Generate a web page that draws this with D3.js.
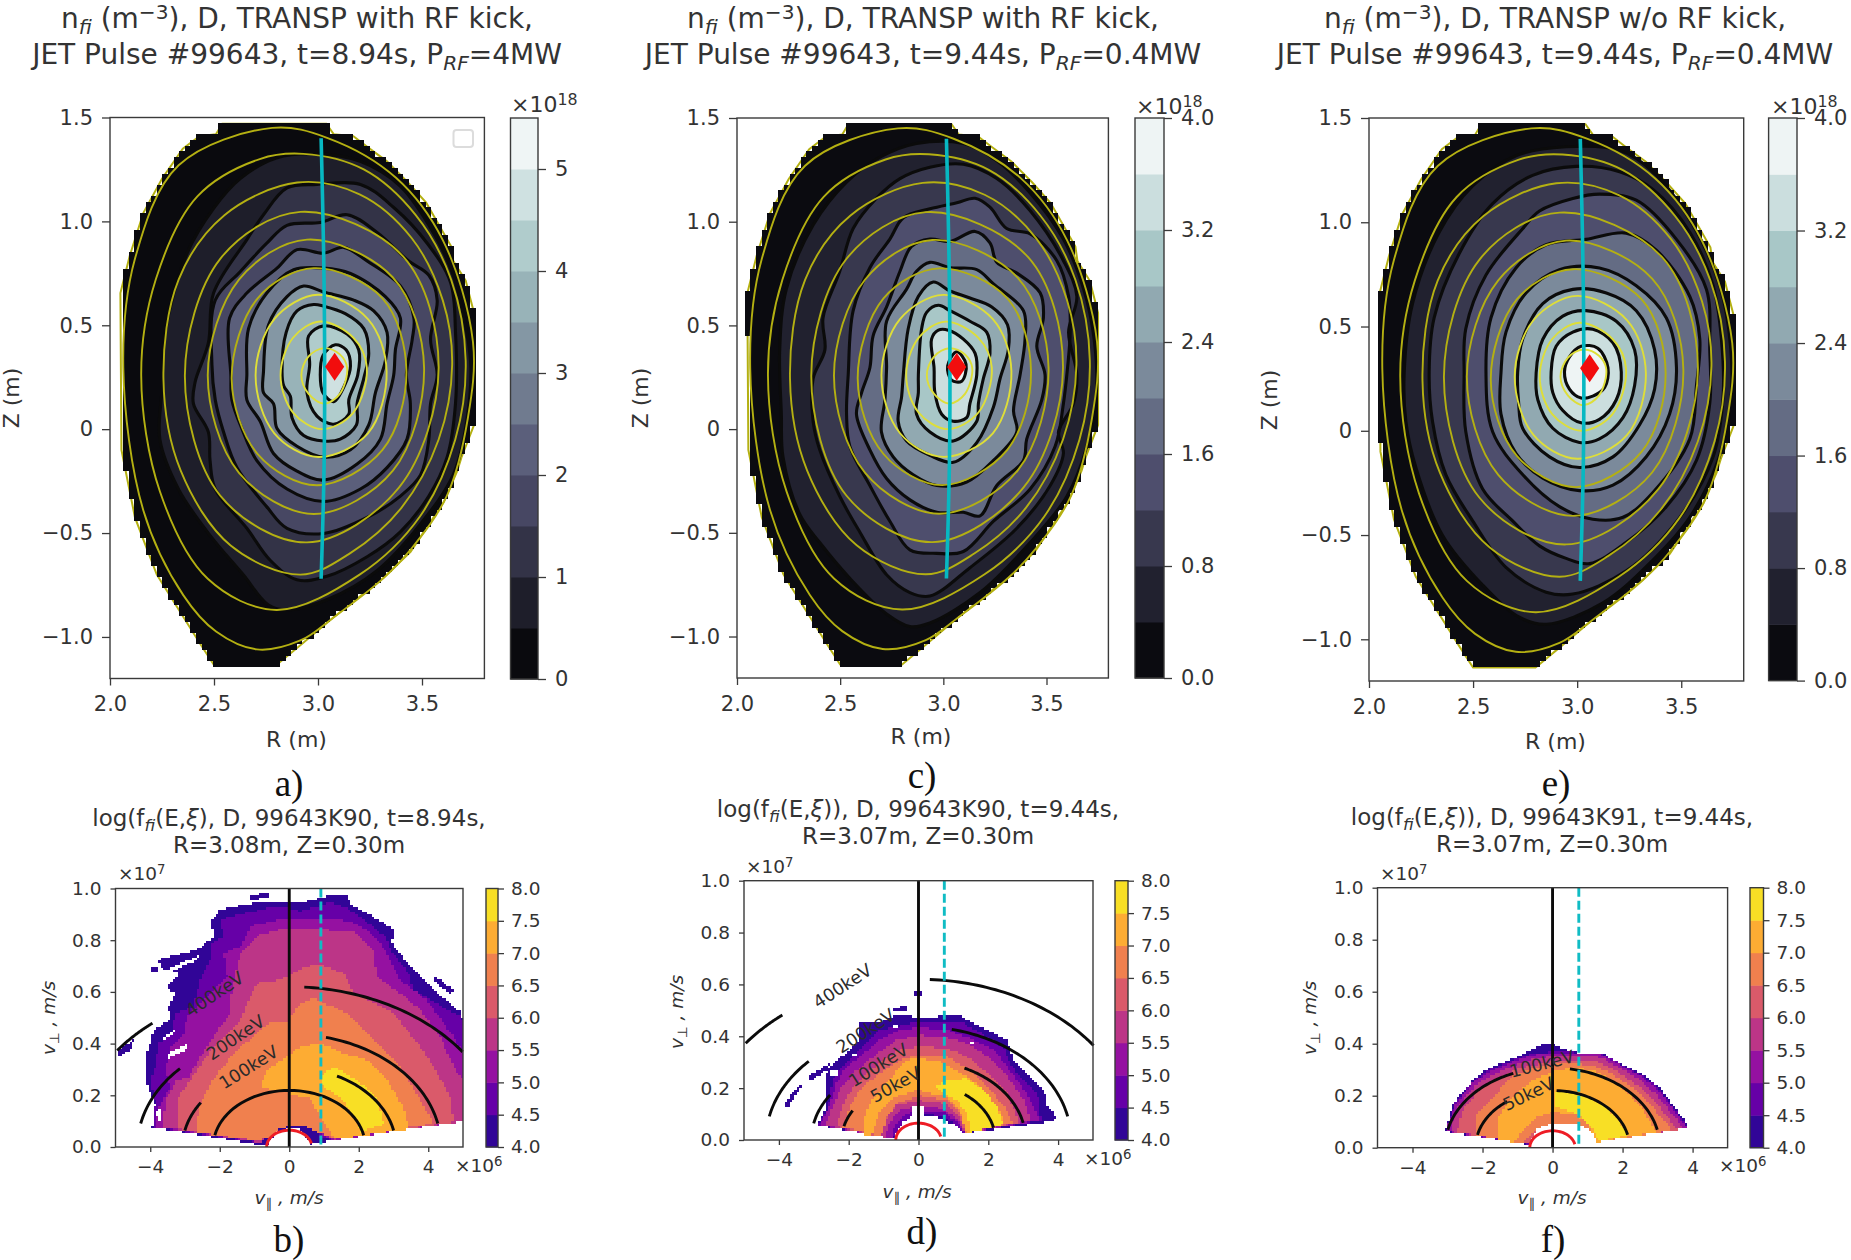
<!DOCTYPE html>
<html>
<head>
<meta charset="utf-8">
<script src="https://cdn.jsdelivr.net/npm/d3@7/dist/d3.min.js"></script>
<style>
  html, body { margin: 0; padding: 0; background: #fff; }
  svg { display: block; }
  text { font-family: "DejaVu Sans", sans-serif; fill: #333; }
</style>
</head>
<body>
<svg id="fig" width="1851" height="1260"></svg>
<script>
// ---------- poloidal cross-section: shared magnetic geometry, [R, Z] in metres ----------
const plasmaEdge = [[2.54,1.47],[3.04,1.47],[3.075,1.42],[3.17,1.41],[3.235,1.36],[3.33,1.29],[3.43,1.19],[3.52,1.09],[3.64,.88],[3.65,.81],[3.71,.715],[3.75,.56],[3.75,.02],[3.69,-.135],[3.67,-.20],[3.605,-.35],[3.445,-.59],[3.315,-.715],[3.075,-.905],[2.915,-1.04],[2.80,-1.135],[2.50,-1.135],[2.435,-1.035],[2.30,-.82],[2.225,-.70],[2.16,-.53],[2.12,-.425],[2.055,-.10],[2.05,.655],[2.095,.835],[2.16,1.04],[2.25,1.205],[2.35,1.35],[2.43,1.41],[2.51,1.42]];

const fluxSurfaces = [
  [[2.064,.295],[2.12,.82],[2.33,1.27],[2.78,1.45],[3.05,1.40],[3.375,1.21],[3.6,.91],[3.745,.42],[3.72,.05],[3.62,-.32],[3.445,-.58],[3.315,-.717],[3.075,-.906],[2.915,-1.017],[2.706,-1.06],[2.51,-.974],[2.353,-.80],[2.16,-.39]],
  [[2.15,.26],[2.22,.72],[2.42,1.12],[2.72,1.30],[2.93,1.325],[3.22,1.25],[3.47,1.03],[3.64,.72],[3.71,.33],[3.66,-.05],[3.49,-.42],[3.2,-.70],[2.8,-.87],[2.47,-.72],[2.24,-.30]],
  [[2.257,.24],[2.33,.72],[2.55,1.03],[2.90,1.187],[3.2,1.13],[3.45,.92],[3.60,.62],[3.645,.31],[3.58,-.05],[3.40,-.38],[3.15,-.60],[2.915,-.70],[2.58,-.56],[2.34,-.20]],
  [[2.36,.26],[2.53,.82],[2.915,1.046],[3.41,.83],[3.58,.295],[3.39,-.28],[2.947,-.545],[2.53,-.32]],
  [[2.47,.26],[2.62,.72],[2.947,.912],[3.36,.73],[3.51,.295],[3.36,-.2],[2.98,-.408],[2.62,-.21]],
  [[2.585,.243],[2.71,.63],[2.98,.775],[3.31,.63],[3.425,.278],[3.31,-.10],[2.995,-.27],[2.71,-.12]],
  [[2.70,.26],[2.79,.53],[3.0,.647],[3.24,.53],[3.33,.278],[3.24,-.02],[3.0,-.134],[2.79,-.02]],
  [[2.82,.26],[2.88,.44],[3.01,.518],[3.17,.44],[3.235,.295],[3.17,.08],[3.02,0],[2.88,.08]],
  [[2.92,.26],[2.955,.35],[3.03,.39],[3.105,.36],[3.14,.295],[3.105,.17],[3.03,.123],[2.955,.17]]
];

const diagnosticChord = [[3.015,1.40],[3.03,.64],[3.03,-.13],[3.015,-.72]];

// ---------- fast-ion density contours, outermost level first ----------
const levelsA = [.5,1,1.5,2,2.5,3,3.5,4,4.5];
const contoursA = [
  [[2.265,.465],[2.37,.845],[2.50,1.065],[2.625,1.205],[2.80,1.305],[2.995,1.325],[3.20,1.29],[3.395,1.17],[3.555,.945],[3.65,.74],[3.715,.465],[3.735,.295],[3.715,.04],[3.65,-.22],[3.49,-.46],[3.285,-.68],[3.045,-.82],[2.85,-.87],[2.76,-.845],[2.64,-.70],[2.48,-.51],[2.33,-.29],[2.24,-.05],[2.25,.19]],
  [[2.995,1.178],[3.204,1.178],[3.364,1.067],[3.525,.895],[3.637,.707],[3.661,.466],[3.661,.123],[3.621,-.134],[3.533,-.322],[3.396,-.494],[3.236,-.614],[3.043,-.708],[2.899,-.725],[2.77,-.631],[2.658,-.477],[2.506,-.288],[2.481,-.151],[2.473,-.014],[2.401,.123],[2.409,.226],[2.473,.415],[2.498,.655],[2.658,.912],[2.738,1.032],[2.851,1.161]],
  [[2.49,.312],[2.506,.621],[2.626,.758],[2.754,.895],[2.851,.981],[3.011,.995],[3.14,1.032],[3.284,.947],[3.436,.809],[3.533,.741],[3.573,.621],[3.541,.432],[3.573,.261],[3.541,.123],[3.533,-.048],[3.493,-.22],[3.396,-.322],[3.236,-.425],[3.027,-.502],[2.851,-.477],[2.754,-.374],[2.61,-.185],[2.546,-.014],[2.506,.141]],
  [[2.581,.261],[2.575,.535],[2.658,.655],[2.803,.775],[2.899,.864],[3.027,.847],[3.124,.875],[3.236,.809],[3.396,.689],[3.461,.535],[3.453,.432],[3.425,.261],[3.444,.123],[3.428,-.048],[3.332,-.185],[3.204,-.288],[3.027,-.348],[2.851,-.288],[2.706,-.151],[2.634,.003],[2.586,.141]],
  [[2.658,.261],[2.666,.484],[2.754,.655],[2.883,.767],[3.027,.775],[3.156,.749],[3.324,.638],[3.396,.535],[3.372,.381],[3.364,.261],[3.332,.123],[3.3,-.048],[3.188,-.168],[3.027,-.245],[2.899,-.202],[2.786,-.117],[2.722,.038],[2.658,.141]],
  [[2.738,.278],[2.762,.501],[2.851,.638],[2.931,.689],[3.027,.66],[3.172,.621],[3.268,.569],[3.332,.466],[3.324,.329],[3.276,.175],[3.244,.021],[3.156,-.099],[3.027,-.134],[2.899,-.082],[2.803,.003],[2.786,.123],[2.738,.175]],
  [[2.827,.278],[2.847,.466],[2.899,.569],[2.979,.6],[3.027,.592],[3.131,.556],[3.22,.484],[3.244,.364],[3.22,.244],[3.188,.123],[3.185,.021],[3.107,-.048],[3.027,-.057],[2.931,-.031],[2.875,.055],[2.867,.158],[2.835,.209]],
  [[2.955,.449],[3.027,.497],[3.14,.458],[3.196,.381],[3.191,.261],[3.148,.141],[3.148,.072],[3.075,.024],[2.995,.063],[2.947,.175],[2.96,.312]],
  [[3.024,.355],[3.083,.406],[3.136,.381],[3.156,.304],[3.131,.218],[3.075,.132],[3.024,.175],[3.011,.261]]
];

const levelsC = [.4,.8,1.2,1.6,2,2.4,2.8,3.2,3.6];
const contoursC = [
  [[2.207,.382],[2.239,.675],[2.369,.984],[2.531,1.191],[2.693,1.311],[2.87,1.377],[3.097,1.377],[3.259,1.294],[3.421,1.139],[3.582,.916],[3.68,.675],[3.731,.434],[3.741,.158],[3.696,-.083],[3.599,-.324],[3.421,-.547],[3.178,-.788],[2.935,-.935],[2.838,-.952],[2.725,-.891],[2.563,-.737],[2.401,-.547],[2.304,-.41],[2.223,-.134],[2.215,.072]],
  [[2.369,.244],[2.426,.382],[2.417,.537],[2.498,.761],[2.563,.967],[2.676,1.113],[2.79,1.208],[2.935,1.263],[3.097,1.277],[3.259,1.208],[3.421,1.053],[3.582,.812],[3.647,.64],[3.607,.468],[3.647,.262],[3.631,.124],[3.558,-.014],[3.582,-.117],[3.518,-.272],[3.356,-.478],[3.129,-.668],[2.935,-.805],[2.838,-.788],[2.725,-.702],[2.595,-.496],[2.498,-.324],[2.401,-.1],[2.369,.038]],
  [[2.539,.262],[2.563,.571],[2.644,.778],[2.741,.916],[2.806,1.019],[2.935,1.062],[3.065,1.091],[3.154,1.113],[3.226,1.07],[3.307,.967],[3.421,.941],[3.55,.812],[3.607,.64],[3.615,.468],[3.602,.296],[3.582,.124],[3.542,-.083],[3.421,-.289],[3.243,-.444],[3.097,-.59],[2.968,-.599],[2.838,-.582],[2.741,-.444],[2.644,-.272],[2.547,-.083],[2.531,.072]],
  [[2.644,.296],[2.66,.451],[2.725,.589],[2.79,.761],[2.846,.881],[2.935,.916],[3.032,.904],[3.154,.953],[3.226,.898],[3.259,.804],[3.356,.752],[3.469,.657],[3.485,.537],[3.453,.399],[3.493,.262],[3.477,.141],[3.404,-.048],[3.388,-.151],[3.259,-.272],[3.178,-.418],[3.097,-.401],[2.968,-.401],[2.838,-.341],[2.725,-.238],[2.644,-.1],[2.579,.072],[2.604,.176]],
  [[2.725,.296],[2.725,.52],[2.822,.675],[2.87,.761],[2.935,.804],[3.032,.778],[3.162,.769],[3.243,.70],[3.388,.571],[3.396,.434],[3.372,.262],[3.34,.089],[3.356,-.014],[3.243,-.151],[3.113,-.255],[2.968,-.272],[2.854,-.22],[2.757,-.134],[2.70,-.014],[2.717,.141]],
  [[2.806,.262],[2.83,.485],[2.879,.64],[2.951,.709],[3.032,.666],[3.129,.632],[3.235,.589],[3.311,.503],[3.315,.382],[3.275,.244],[3.243,.107],[3.162,-.065],[3.048,-.16],[2.935,-.126],[2.822,-.057],[2.781,.038],[2.798,.158]],
  [[2.879,.262],[2.895,.485],[2.919,.563],[2.976,.597],[3.032,.571],[3.129,.52],[3.21,.468],[3.226,.365],[3.194,.244],[3.17,.124],[3.162,.038],[3.048,-.057],[2.935,-.014],[2.87,.072],[2.879,.176]],
  [[2.943,.434],[2.976,.477],[3.024,.477],[3.097,.434],[3.154,.365],[3.162,.262],[3.129,.124],[3.113,.055],[3.048,.038],[2.992,.072],[2.959,.176],[2.955,.296]],
  [[3.065,.373],[3.11,.313],[3.089,.231],[3.04,.236],[3.021,.305]]
];

const levelsE = [.4,.8,1.2,1.6,2,2.4,2.8,3.2,3.6];
const contoursE = [
  [[2.169,.277],[2.209,.61],[2.337,.952],[2.498,1.174],[2.706,1.319],[2.947,1.362],[3.204,1.345],[3.364,1.242],[3.557,.986],[3.685,.696],[3.737,.405],[3.737,.132],[3.677,-.142],[3.541,-.415],[3.364,-.62],[3.124,-.825],[2.851,-.928],[2.722,-.894],[2.546,-.74],[2.353,-.501],[2.225,-.176],[2.177,.046]],
  [[2.289,.277],[2.313,.542],[2.433,.849],[2.594,1.089],[2.786,1.225],[2.995,1.268],[3.204,1.242],[3.364,1.157],[3.541,.952],[3.653,.696],[3.693,.439],[3.701,.166],[3.653,-.125],[3.493,-.415],[3.236,-.672],[2.979,-.783],[2.851,-.774],[2.658,-.655],[2.498,-.432],[2.369,-.21],[2.305,.046]],
  [[2.457,.277],[2.465,.49],[2.562,.747],[2.738,.969],[2.819,1.054],[2.979,1.114],[3.107,1.135],[3.284,1.106],[3.477,.918],[3.621,.678],[3.637,.388],[3.637,.132],[3.573,-.142],[3.428,-.364],[3.236,-.535],[3.059,-.637],[2.947,-.612],[2.819,-.552],[2.69,-.432],[2.546,-.279],[2.465,-.005]],
  [[2.562,.277],[2.586,.542],[2.706,.781],[2.851,.892],[3.043,.918],[3.236,.948],[3.38,.866],[3.541,.644],[3.589,.439],[3.573,.217],[3.541,-.039],[3.364,-.296],[3.22,-.415],[3.075,-.424],[2.915,-.364],[2.738,-.21],[2.594,-.005]],
  [[2.634,.277],[2.658,.473],[2.754,.661],[2.915,.772],[3.107,.781],[3.284,.696],[3.428,.542],[3.477,.302],[3.444,.08],[3.332,-.125],[3.172,-.261],[3.011,-.287],[2.835,-.227],[2.706,-.108],[2.634,.08]],
  [[2.714,.277],[2.738,.439],[2.835,.61],[2.979,.678],[3.14,.661],[3.284,.576],[3.372,.388],[3.372,.20],[3.30,.029],[3.172,-.125],[3.011,-.176],[2.867,-.125],[2.738,.012],[2.719,.132]],
  [[2.803,.277],[2.835,.439],[2.931,.55],[3.043,.576],[3.188,.525],[3.276,.388],[3.276,.217],[3.22,.063],[3.107,-.039],[3.011,-.056],[2.883,.012],[2.811,.149]],
  [[2.875,.282],[2.899,.405],[2.979,.473],[3.075,.487],[3.172,.422],[3.212,.282],[3.188,.149],[3.107,.055],[3.019,.038],[2.931,.097],[2.883,.183]],
  [[2.939,.282],[2.963,.354],[3.019,.405],[3.099,.396],[3.148,.302],[3.132,.208],[3.075,.166],[3.019,.157],[2.963,.20]]
];

// ---------- log-distribution regions in velocity space, [v∥ /1e6, v⊥ /1e7] ----------
const logLevels = [4,4.5,5,5.5,6,6.5,7,7.5];

const regionsB = [
  [[-3.95,.078],[-3.76,.129],[-4.09,.246],[-4.14,.336],[-3.90,.453],[-3.42,.492],[-3.47,.543],[-3.28,.595],[-3.52,.621],[-3.18,.673],[-3.66,.692],[-3.76,.725],[-2.66,.763],[-2.13,.815],[-2.27,.867],[-1.99,.919],[-1.31,.938],[-.45,.951],[.32,.945],[1.28,.977],[1.71,.971],[1.75,.938],[2.33,.899],[3.00,.841],[2.95,.789],[3.39,.712],[3.77,.66],[4.15,.608],[4.97,.518],[5,.101],[1.28,.028],[.89,.019],[.62,.013],[.32,.071],[0,.071],[-.35,.065],[-.66,.006]],
  [[-3.90,.078],[-3.86,.181],[-4.0,.259],[-3.86,.311],[-3.76,.401],[-3.38,.44],[-3.28,.518],[-2.75,.543],[-2.56,.647],[-2.27,.725],[-2.27,.783],[-1.89,.815],[-1.99,.88],[-1.22,.906],[-.35,.932],[.32,.912],[1.18,.945],[1.66,.925],[2.14,.88],[2.81,.809],[2.91,.763],[3.43,.673],[3.58,.608],[4.54,.531],[4.97,.505],[5,.101],[1.28,.028],[.89,.039],[.70,.091],[.32,.123],[0,.129],[-.45,.11],[-.74,.052],[-.93,.019]],
  [[-3.86,.078],[-3.76,.155],[-3.42,.233],[-3.57,.298],[-3.38,.388],[-3.04,.44],[-2.94,.505],[-2.27,.595],[-1.79,.66],[-1.89,.751],[-1.41,.776],[-1.12,.854],[-.26,.88],[.51,.88],[1.28,.886],[1.85,.867],[2.23,.841],[2.62,.789],[2.91,.725],[3.19,.647],[3.96,.569],[4.44,.479],[4.73,.427],[5,.362],[5,.101],[1.28,.028],[.99,.045],[.80,.084],[.32,.11],[0,.114],[-.35,.097],[-.64,.065],[-.79,.019]],
  [[-3.62,.078],[-3.57,.181],[-3.23,.259],[-2.90,.272],[-2.56,.349],[-2.18,.427],[-1.70,.518],[-1.65,.608],[-1.41,.751],[-.83,.822],[-.07,.848],[.89,.841],[1.85,.835],[2.43,.763],[2.52,.66],[3.19,.595],[3.77,.531],[4.34,.427],[4.73,.311],[5,.259],[5,.101],[1.28,.031],[.89,.058],[.41,.091],[0,.101],[-.35,.084],[-.59,.052],[-.83,.019]],
  [[-3.18,.071],[-3.18,.194],[-2.66,.298],[-2.18,.388],[-1.41,.492],[-1.12,.582],[-.93,.634],[-.26,.647],[.51,.699],[.89,.705],[1.56,.673],[1.85,.595],[2.23,.569],[3.0,.518],[3.77,.388],[4.15,.311],[4.63,.194],[4.73,.098],[1.28,.032],[.89,.058],[.41,.084],[0,.091],[-.35,.071],[-.55,.045],[-.93,.026]],
  [[-2.66,.058],[-2.61,.155],[-2.27,.246],[-1.60,.362],[-.83,.453],[-.55,.479],[-.07,.479],[.32,.556],[.70,.576],[1.66,.518],[2.43,.414],[3.19,.311],[3.77,.181],[4.15,.093],[1.28,.036],[.94,.052],[.51,.078],[0,.084],[-.35,.065],[-.55,.036],[-1.03,.028]],
  [[-.83,.239],[-.64,.298],[-.07,.349],[.32,.388],[.89,.401],[1.56,.362],[2.23,.336],[2.81,.259],[3.29,.155],[3.43,.071],[1.32,.032],[1.08,.078],[.60,.188],[.03,.207],[-.35,.214]],
  [[.89,.272],[1.28,.311],[1.95,.259],[2.52,.194],[2.71,.091],[2.04,.058],[1.95,.104],[1.47,.194],[.99,.233]]
];
const strayB = [
  [[-1.12,.97],[-.55,.99],[-.6,.965],[-1.1,.955]],
  [[4.2,.66],[4.73,.608],[4.65,.59],[4.15,.645]],
  [[-4.95,.375],[-4.48,.414],[-4.55,.38],[-4.9,.35]],
  [[-3.95,.692],[-3.8,.70],[-3.8,.68],[-3.95,.675]]
];
const voidsB = [
  [[-3.62,.679],[-2.56,.744],[-2.66,.725],[-3.52,.673]],
  [[-3.52,.356],[-2.93,.401],[-2.98,.375],[-3.5,.34]],
  [[-3.62,.427],[-3.28,.453],[-3.33,.44],[-3.6,.415]],
  [[-3.86,.129],[-3.66,.155],[-3.7,.10]]
];

const regionsD = [
  [[-2.88,.058],[-2.69,.116],[-2.64,.18],[-2.69,.238],[-2.50,.289],[-1.92,.353],[-1.68,.392],[-1.68,.456],[-1.01,.456],[-.67,.482],[0,.475],[.53,.469],[.63,.482],[1.25,.482],[1.39,.462],[1.97,.424],[2.55,.385],[2.74,.308],[3.08,.257],[3.61,.193],[3.70,.128],[3.99,.083],[3.70,.071],[1.39,.028],[1.11,.058],[.82,.071],[.53,.09],[.24,.096],[-.14,.103],[-.29,.09],[-.63,.051],[-.67,.006]],
  [[-2.86,.058],[-2.60,.122],[-2.50,.193],[-2.40,.257],[-1.87,.327],[-1.59,.366],[-1.11,.424],[-.63,.437],[0,.456],[.63,.456],[1.30,.449],[1.97,.398],[2.45,.353],[2.64,.295],[2.84,.257],[3.41,.18],[3.51,.077],[1.30,.028],[1.01,.064],[.72,.09],[.14,.103],[-.19,.096],[-.43,.071],[-.67,.019]],
  [[-2.84,.058],[-2.55,.128],[-2.36,.218],[-2.07,.282],[-1.68,.321],[-1.11,.385],[-.53,.424],[0,.434],[.82,.424],[1.49,.392],[2.16,.347],[2.55,.282],[3.03,.193],[3.32,.122],[3.46,.077],[1.35,.028],[1.06,.077],[.72,.109],[0,.118],[-.43,.096],[-.67,.058],[-.77,.01]],
  [[-2.69,.058],[-2.45,.128],[-2.26,.193],[-1.87,.257],[-1.30,.321],[-.63,.385],[0,.404],[.82,.395],[1.39,.372],[1.97,.321],[2.55,.244],[3.03,.154],[3.22,.077],[1.35,.028],[1.11,.083],[.72,.122],[0,.135],[-.53,.116],[-.82,.071],[-.96,.013]],
  [[-2.36,.054],[-2.16,.135],[-1.87,.205],[-1.49,.257],[-1.01,.308],[-.53,.347],[0,.36],[.82,.353],[1.49,.315],[1.97,.257],[2.55,.18],[2.88,.071],[1.35,.028],[1.15,.096],[.77,.141],[0,.154],[-.63,.135],[-.96,.077],[-1.15,.017]],
  [[-2.16,.051],[-1.97,.128],[-1.68,.193],[-1.30,.238],[-.82,.282],[-.43,.315],[0,.327],[.82,.321],[1.49,.27],[2.07,.193],[2.45,.128],[2.69,.068],[1.37,.028],[1.20,.103],[.82,.154],[0,.173],[-.63,.141],[-.91,.09],[-1.06,.017]],
  [[-1.59,.023],[-1.59,.077],[-1.35,.154],[-1.01,.205],[-.53,.282],[-.34,.308],[0,.315],[.63,.302],[1.39,.244],[1.87,.193],[2.36,.103],[2.45,.062],[1.37,.028],[1.20,.116],[.82,.167],[0,.193],[-.72,.167],[-1.11,.116],[-1.35,.019]],
  [[.48,.205],[.72,.225],[1.35,.238],[1.87,.193],[2.26,.128],[2.43,.062],[1.49,.032],[1.39,.103],[1.11,.154],[.72,.18]]
];
const strayD = [
  [[-3.13,.25],[-2.55,.295],[-2.6,.275],[-3.1,.23]],
  [[-3.85,.141],[-3.32,.225],[-3.4,.2],[-3.75,.125]],
  [[-.14,.57],[.1,.57],[.1,.555],[-.14,.555]],
  [[-.72,.507],[-.29,.52],[-.3,.505],[-.72,.495]]
];
const voidsD = [
  [[-2.5,.265],[-2.3,.265],[-2.3,.25],[-2.5,.25]],
  [[-1.88,.33],[-1.76,.33],[-1.76,.32],[-1.88,.32]],
  [[-.75,.445],[-.58,.445],[-.58,.432],[-.75,.432]],
  [[1.45,.38],[1.62,.38],[1.62,.37],[1.45,.37]],
  [[-.19,.13],[.14,.13],[.14,.085],[-.19,.085]]
];

const regionsF = [
  [[-3.07,.065],[-2.83,.171],[-2.26,.261],[-1.83,.306],[-1.11,.344],[-.73,.37],[-.35,.395],[-.02,.402],[.22,.383],[.79,.363],[1.41,.363],[1.93,.325],[2.60,.28],[3.08,.229],[3.55,.145],[3.89,.081],[1.27,.023],[1.12,.081],[.70,.107],[.03,.107],[-.45,.087],[-.73,.014]],
  [[-3.05,.065],[-2.80,.168],[-2.26,.257],[-1.80,.30],[-1.11,.337],[-.60,.362],[.22,.37],[1.41,.36],[1.93,.322],[2.58,.277],[3.05,.225],[3.52,.142],[3.86,.08],[1.27,.023],[1.12,.078],[.70,.103],[.03,.105],[-.45,.085],[-.71,.015]],
  [[-3.04,.065],[-2.78,.164],[-2.26,.254],[-1.78,.293],[-1.11,.331],[-.54,.357],[.22,.363],[1.41,.357],[1.93,.318],[2.55,.273],[3.03,.222],[3.50,.139],[3.84,.078],[1.27,.023],[1.12,.074],[.70,.10],[.03,.104],[-.45,.083],[-.69,.017]],
  [[-2.92,.064],[-2.73,.152],[-2.21,.241],[-1.73,.28],[-1.07,.318],[-.50,.344],[.22,.353],[1.36,.348],[1.93,.306],[2.50,.261],[2.98,.203],[3.41,.132],[3.74,.074],[1.27,.023],[1.12,.072],[.70,.098],[.03,.102],[-.45,.08],[-.67,.017]],
  [[-2.73,.062],[-2.59,.139],[-2.11,.222],[-1.59,.267],[-.92,.306],[.22,.338],[1.27,.331],[1.84,.293],[2.41,.241],[2.89,.184],[3.31,.113],[3.55,.071],[1.27,.023],[1.12,.07],[.70,.096],[.03,.10],[-.45,.078],[-.65,.017]],
  [[-2.16,.049],[-2.16,.126],[-1.64,.203],[-1.11,.28],[-.54,.306],[.22,.325],[1.17,.318],[1.74,.28],[2.31,.229],[2.84,.158],[3.22,.10],[3.41,.068],[1.27,.023],[1.12,.068],[.70,.094],[.03,.098],[-.48,.075],[-.85,.02]],
  [[-1.59,.03],[-1.54,.119],[-1.16,.196],[-.54,.261],[.03,.293],[.50,.306],[1.17,.299],[1.74,.254],[2.22,.203],[2.60,.145],[2.93,.062],[1.27,.023],[1.12,.062],[1.03,.094],[.70,.126],[.03,.139],[-.54,.113],[-.83,.068],[-1.11,.023]],
  [[.08,.216],[.79,.209],[1.55,.158],[1.93,.094],[2.17,.049],[1.31,.027],[1.17,.074],[.79,.126],[.31,.152],[.08,.158]]
];
const strayF = [];
const voidsF = [];

// ---------- constant-energy arcs: [radius /1e6, start angle, end angle] ----------
const arcsB = [[2.19,12,168],[3.07,12,63.4],[3.07,146,168],[4.37,12,76],[4.37,136,168],[6.2,36.4,86],[6.2,129.4,143]];
const arcsD = [[2.2,12.4,53],[2.2,149,166],[3.07,12.4,64.6],[3.07,145.6,168],[4.37,12,77.4],[4.37,136,168],[6.2,36,87],[6.2,129,143]];
const arcsF = [[2.2,13,87],[2.2,126,167],[3.07,13,80.7],[3.07,111.4,167]];
const slowingArc = [.65,12,180];

const energyLabelsB = [["400keV",-2.13,.588,-34],["200keV",-1.53,.42,-34],["100keV",-1.15,.305,-32]];
const energyLabelsD = [["400keV",-2.16,.59,-33],["200keV",-1.5,.417,-33],["100keV",-1.13,.285,-32],["50keV",-.64,.21,-29]];
const energyLabelsF = [["100keV",-.3,.318,-14],["50keV",-.67,.203,-26]];

// tick values and their printed labels
const rTicks = [2,2.5,3,3.5];
const zTicks = [1.5,1,.5,0,-.5,-1];
const zTickLabels = ["1.5","1.0","0.5","0","−0.5","−1.0"];
const vParTicks = [-4,-2,0,2,4];
const vPerpTicks = [0,.2,.4,.6,.8,1];
const logTicks = [4,4.5,5,5.5,6,6.5,7,7.5,8];
const cbarTicksA = [0,1,2,3,4,5];
const cbarTicksCE = [0,.8,1.6,2.4,3.2,4];

// ---------- matplotlib "bone" colour map, its piecewise-linear stops ----------
const boneR = d3.scaleLinear([0,.746032,1],[0,.652778,1]);
const boneG = d3.scaleLinear([0,.365079,.746032,1],[0,.319444,.777778,1]);
const boneB = d3.scaleLinear([0,.365079,1],[0,.444444,1]);
const bone = t => d3.rgb(boneR(t)*255, boneG(t)*255, boneB(t)*255).formatHex();

const svg = d3.select("#fig");
const INK = "#3a3a3a";

// Write a text run made of plain, sub- and superscripted segments.
function richText(parent, x, y, size, segs, opts = {}) {
  const t = parent.append("text").attr("x", x).attr("y", y).attr("font-size", size)
    .attr("text-anchor", opts.anchor || "middle");
  if (opts.rotate !== undefined) t.attr("transform", `rotate(${opts.rotate} ${x} ${y})`);
  let shift = 0;
  segs.forEach(s => {
    const seg = typeof s === "string" ? { t: s } : s;
    const ts = t.append("tspan").text(seg.t);
    let target = 0, fs = size;
    if (seg.sub) { target = size * .22; fs = size * .72; }
    if (seg.sup) { target = -size * .32; fs = size * .72; }
    ts.attr("dy", target - shift).attr("font-size", fs);
    if (seg.italic) ts.attr("font-style", "italic");
    shift = target;
  });
  return t;
}

// Fill the pixels whose centres fall inside a polygon, giving the blocky edge of gridded data.
function rasterPath(poly, cell) {
  const xs = poly.map(p => p[0]), ys = poly.map(p => p[1]);
  const x0 = Math.floor(d3.min(xs) / cell) * cell, x1 = d3.max(xs);
  const y0 = Math.floor(d3.min(ys) / cell) * cell, y1 = d3.max(ys);
  let d = "";
  for (let y = y0; y <= y1; y += cell) {
    let start = null;
    for (let x = x0; x <= x1 + cell; x += cell) {
      const inside = d3.polygonContains(poly, [x + cell / 2, y + cell / 2]);
      if (inside && start === null) start = x;
      if (!inside && start !== null) {
        d += `M${start} ${y}H${x}V${y + cell + .4}H${start}Z`;
        start = null;
      }
    }
  }
  return d;
}

function styleAxis(g, size) {
  g.select(".domain").remove();
  g.selectAll(".tick line").attr("stroke", INK).attr("stroke-width", 1.3);
  g.selectAll(".tick text").attr("font-size", size).attr("font-family", "DejaVu Sans, sans-serif").attr("fill", "#333");
}

function frame(parent, b) {
  parent.append("rect").attr("x", b.l).attr("y", b.t).attr("width", b.r - b.l).attr("height", b.b - b.t)
    .attr("fill", "none").attr("stroke", INK).attr("stroke-width", 1.4);
}

function colorbar(parent, b, levels, colors, ticks, tickFmt, tickLen, pad, size) {
  const y = d3.scaleLinear([levels[0], levels[levels.length - 1]], [b.b, b.t]);
  const bands = d3.pairs(levels);
  parent.selectAll(null).data(bands).join("rect")
    .attr("x", b.l).attr("width", b.r - b.l)
    .attr("y", d => y(d[1])).attr("height", d => y(d[0]) - y(d[1]) + .5)
    .attr("fill", (d, i) => colors[i]);
  frame(parent, b);
  const ax = parent.append("g").attr("transform", `translate(${b.r},0)`)
    .call(d3.axisRight(y).tickValues(ticks).tickFormat(tickFmt).tickSize(tickLen).tickPadding(pad));
  styleAxis(ax, size);
}

// ---------- upper row: density maps on the poloidal plane ----------
function densityPanel(cfg) {
  const g = svg.append("g");
  const b = cfg.box;
  const x = d3.scaleLinear([2, 3.8], [b.l, b.r]);
  const y = d3.scaleLinear([-1.2, 1.5], [b.b, b.t]);
  const line = d3.line().x(d => x(d[0])).y(d => y(d[1])).curve(d3.curveCatmullRomClosed.alpha(.5));
  const open = d3.line().x(d => x(d[0])).y(d => y(d[1])).curve(d3.curveCatmullRom.alpha(.5));
  const edge = d3.line().x(d => x(d[0])).y(d => y(d[1])).curve(d3.curveLinearClosed);

  const allLevels = cfg.bandEdges;
  const colors = d3.pairs(allLevels).map((d, i, a) => bone((i + .5) / a.length));

  // last closed surface, showing only where it pokes past the gridded data
  g.append("path").attr("d", edge(plasmaEdge)).attr("fill", "none").attr("stroke", "#b4b012").attr("stroke-width", 2);

  // lowest band: the gridded plasma region
  g.append("path").attr("d", rasterPath(plasmaEdge.map(p => [x(p[0]), y(p[1])]), 5.6))
    .attr("fill", colors[0]).attr("shape-rendering", "crispEdges");

  cfg.contours.forEach((c, i) => {
    g.append("path").attr("d", line(c)).attr("fill", colors[i + 1]);
  });
  cfg.contours.forEach(c => {
    g.append("path").attr("d", line(c)).attr("fill", "none").attr("stroke", "#0b0b0b").attr("stroke-width", 3.1);
  });

  fluxSurfaces.forEach((c, i) => {
    g.append("path").attr("d", line(c)).attr("fill", "none")
      .attr("stroke", i >= 6 ? "#dede38" : "#b4b012").attr("stroke-width", 1.9);
  });

  g.append("path").attr("d", open(diagnosticChord)).attr("fill", "none").attr("stroke", "#07b8c2").attr("stroke-width", 3.6);

  // red diamond at the sampled location
  g.append("path")
    .attr("d", d3.symbol(d3.symbolSquare, 300)())
    .attr("transform", `translate(${x(cfg.marker[0])},${y(cfg.marker[1])}) scale(.78,1.14) rotate(45)`)
    .attr("fill", "#f20d0d");

  frame(g, b);

  const ax = g.append("g").attr("transform", `translate(0,${b.b})`)
    .call(d3.axisBottom(x).tickValues(rTicks).tickFormat(d3.format(".1f")).tickSize(7).tickPadding(11));
  styleAxis(ax, 21);
  const ay = g.append("g").attr("transform", `translate(${b.l},0)`)
    .call(d3.axisLeft(y).tickValues(zTicks).tickFormat((d, i) => zTickLabels[i]).tickSize(8).tickPadding(9));
  styleAxis(ay, 21);

  richText(g, cfg.xLabel[0], cfg.xLabel[1], 22, ["R (m)"]);
  richText(g, cfg.yLabel[0], cfg.yLabel[1], 22, ["Z (m)"], { rotate: -90 });

  colorbar(g, cfg.cbar, allLevels, colors, cfg.cbarTicks, cfg.cbarFmt, 8, 9, 21);
  richText(g, cfg.offset[0], cfg.offset[1], 22, ["×10", { t: "18", sup: true }], { anchor: "start" });

  richText(g, cfg.titleX, 28, 28, [{ t: "n" }, { t: "fi", sub: true, italic: true }, " (m", { t: "−3", sup: true }, "), D, " + cfg.titleRun]);
  richText(g, cfg.titleX, 64, 28, ["JET Pulse #99643, t=" + cfg.time + "s, P", { t: "RF", sub: true, italic: true }, "=" + cfg.power + "MW"]);
  return { x, y };
}

// ---------- lower row: distribution function in velocity space ----------
function distPanel(cfg) {
  const g = svg.append("g");
  const b = cfg.box;
  const x = d3.scaleLinear([-5, 5], [b.l, b.r]);
  const y = d3.scaleLinear([0, 1], [b.b, b.t]);
  const colors = logLevels.map((d, i) => d3.interpolatePlasma((i + .5) / logLevels.length));
  const toPx = p => [x(p[0]), y(p[1])];

  cfg.regions.forEach((poly, i) => {
    g.append("path").attr("d", rasterPath(poly.map(toPx), 2.4)).attr("fill", colors[i]).attr("shape-rendering", "crispEdges");
  });
  cfg.stray.forEach(poly => {
    g.append("path").attr("d", rasterPath(poly.map(toPx), 2.4)).attr("fill", colors[0]).attr("shape-rendering", "crispEdges");
  });
  cfg.voids.forEach(poly => {
    g.append("path").attr("d", rasterPath(poly.map(toPx), 2.4)).attr("fill", "#fff").attr("shape-rendering", "crispEdges");
  });

  // Circle of constant speed: v∥ in 1e6 m/s and v⊥ in 1e7 m/s
  const arcPath = a => {
    const line = d3.line().x(d => x(d[0])).y(d => y(d[1]));
    const steps = d3.range(a[1], a[2] + .001, (a[2] - a[1]) / 40);
    return line(steps.map(deg => [a[0] * Math.cos(deg * Math.PI / 180), a[0] * Math.sin(deg * Math.PI / 180) / 10]));
  };
  cfg.arcs.forEach(a => {
    g.append("path").attr("d", arcPath(a)).attr("fill", "none").attr("stroke", "#0b0b0b").attr("stroke-width", 2.9);
  });
  g.append("path").attr("d", arcPath(slowingArc)).attr("fill", "none").attr("stroke", "#ee1c25").attr("stroke-width", 2.9);

  g.append("line").attr("x1", x(0)).attr("x2", x(0)).attr("y1", y(1)).attr("y2", y(0))
    .attr("stroke", "#0b0b0b").attr("stroke-width", 2.9);
  g.append("line").attr("x1", x(cfg.cut)).attr("x2", x(cfg.cut)).attr("y1", y(1)).attr("y2", y(0))
    .attr("stroke", "#10bcc4").attr("stroke-width", 2.9).attr("stroke-dasharray", "9 4");

  cfg.labels.forEach(l => {
    g.append("text").text(l[0]).attr("font-size", 17.5).style("fill", "#2b2b2b").attr("text-anchor", "middle")
      .attr("dominant-baseline", "middle")
      .attr("transform", `translate(${x(l[1])},${y(l[2])}) rotate(${l[3]})`);
  });

  frame(g, b);

  const ax = g.append("g").attr("transform", `translate(0,${b.b})`)
    .call(d3.axisBottom(x).tickValues(vParTicks).tickFormat(d => d < 0 ? "−" + (-d) : d).tickSize(5).tickPadding(8));
  styleAxis(ax, 18.5);
  const ay = g.append("g").attr("transform", `translate(${b.l},0)`)
    .call(d3.axisLeft(y).tickValues(vPerpTicks).tickFormat(d3.format(".1f")).tickSize(5).tickPadding(9));
  styleAxis(ay, 18.5);

  richText(g, cfg.xLabel[0], cfg.xLabel[1], 18.5, [{ t: "v", italic: true }, { t: "∥", sub: true, italic: true }, { t: " , m/s", italic: true }]);
  richText(g, cfg.yLabel[0], cfg.yLabel[1], 18.5, [{ t: "v", italic: true }, { t: "⊥", sub: true, italic: true }, { t: " , m/s", italic: true }], { rotate: -90 });
  richText(g, cfg.off7[0], cfg.off7[1], 18.5, ["×10", { t: "7", sup: true }], { anchor: "start" });
  richText(g, cfg.off6[0], cfg.off6[1], 18.5, ["×10", { t: "6", sup: true }], { anchor: "start" });

  colorbar(g, cfg.cbar, logLevels.concat([8]), colors, logTicks, d3.format(".1f"), 6, 7, 18.5);

  richText(g, cfg.titleX, cfg.titleY, 23, ["log(f", { t: "fi", sub: true, italic: true }, "(E,", { t: "ξ", italic: true }, cfg.titleRun]);
  richText(g, cfg.titleX, cfg.titleY + 27, 23, [cfg.where]);
}

densityPanel({
  box: { l: 110, r: 484.4, t: 117.5, b: 678.5 }, cbar: { l: 510.5, r: 538, t: 118, b: 679 },
  bandEdges: [0,.5,1,1.5,2,2.5,3,3.5,4,4.5,5,5.5], contours: contoursA, marker: [3.08,.30],
  cbarTicks: cbarTicksA, cbarFmt: d3.format("d"),
  xLabel: [296.5, 747], yLabel: [19, 398], offset: [511, 112],
  titleX: 297, titleRun: "TRANSP with RF kick,", time: "8.94", power: "4"
});
densityPanel({
  box: { l: 737, r: 1108.4, t: 118, b: 678 }, cbar: { l: 1135, r: 1164, t: 118, b: 678 },
  bandEdges: [0,.4,.8,1.2,1.6,2,2.4,2.8,3.2,3.6,4], contours: contoursC, marker: [3.065,.30],
  cbarTicks: cbarTicksCE, cbarFmt: d3.format(".1f"),
  xLabel: [921, 744], yLabel: [648, 398], offset: [1136, 114],
  titleX: 923, titleRun: "TRANSP with RF kick,", time: "9.44", power: "0.4"
});
densityPanel({
  box: { l: 1369, r: 1743.7, t: 118, b: 681 }, cbar: { l: 1768.6, r: 1797, t: 118, b: 680.6 },
  bandEdges: [0,.4,.8,1.2,1.6,2,2.4,2.8,3.2,3.6,4], contours: contoursE, marker: [3.06,.30],
  cbarTicks: cbarTicksCE, cbarFmt: d3.format(".1f"),
  xLabel: [1555.5, 749], yLabel: [1277, 400], offset: [1771, 114],
  titleX: 1555, titleRun: "TRANSP w/o RF kick,", time: "9.44", power: "0.4"
});

// Legend frame left empty on the first map
svg.append("rect").attr("x", 453.5).attr("y", 130).attr("width", 19.5).attr("height", 17).attr("rx", 3)
  .attr("fill", "#fff").attr("stroke", "#dcdcdc").attr("stroke-width", 2);

distPanel({
  box: { l: 115.5, r: 463, t: 888.5, b: 1147 }, cbar: { l: 486, r: 498, t: 888.5, b: 1147 },
  regions: regionsB, stray: strayB, voids: voidsB, arcs: arcsB, labels: energyLabelsB, cut: .91,
  xLabel: [289, 1204], yLabel: [55, 1018], off7: [118, 880], off6: [455, 1172],
  titleX: 289, titleY: 826, titleRun: "), D, 99643K90, t=8.94s,", where: "R=3.08m, Z=0.30m"
});
distPanel({
  box: { l: 744, r: 1093, t: 880.7, b: 1140 }, cbar: { l: 1115, r: 1128, t: 880.7, b: 1140 },
  regions: regionsD, stray: strayD, voids: voidsD, arcs: arcsD, labels: energyLabelsD, cut: .74,
  xLabel: [917, 1198], yLabel: [683, 1012], off7: [746, 873], off6: [1084, 1165],
  titleX: 918, titleY: 817, titleRun: ")), D, 99643K90, t=9.44s,", where: "R=3.07m, Z=0.30m"
});
distPanel({
  box: { l: 1377.5, r: 1727.6, t: 887.7, b: 1147.7 }, cbar: { l: 1750, r: 1763.5, t: 887.7, b: 1147.7 },
  regions: regionsF, stray: strayF, voids: voidsF, arcs: arcsF, labels: energyLabelsF, cut: .75,
  xLabel: [1552, 1204], yLabel: [1316, 1018], off7: [1380, 880], off6: [1719, 1172],
  titleX: 1552, titleY: 825, titleRun: ")), D, 99643K91, t=9.44s,", where: "R=3.07m, Z=0.30m"
});

// Sub-figure letters
const panelLetters = [["a)",289,796],["b)",289,1252],["c)",922,788],["d)",922,1244],["e)",1556,796],["f)",1553,1252]];
panelLetters.forEach(p => {
  svg.append("text").text(p[0]).attr("x", p[1]).attr("y", p[2]).attr("text-anchor", "middle")
    .attr("font-size", 37).style("font-family", "'Liberation Serif', serif").style("fill", "#111");
});
</script>
</body>
</html>
